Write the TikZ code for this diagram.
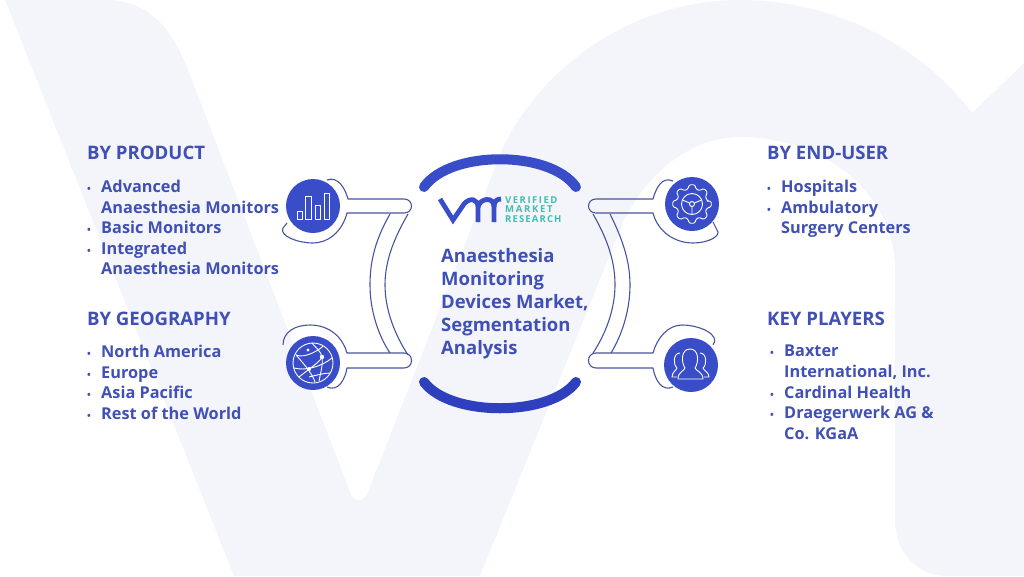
\documentclass[tikz,border=0pt]{standalone}
\usepackage{fontspec}
\usepackage{tikz}
\setmainfont{Open Sans}
\definecolor{vmrback}{RGB}{243,245,251}
\definecolor{vmrblue}{RGB}{58,77,200}
\definecolor{vmrdeep}{RGB}{46,64,190}
\definecolor{vmrtext}{RGB}{64,80,180}
\definecolor{vmrline}{RGB}{70,84,160}
\definecolor{vmrteal}{RGB}{62,190,175}
\newcommand{\itm}{\makebox[14pt][l]{\fontsize{10}{10}\selectfont\textbullet}}
\newcommand{\itc}{\hspace*{14pt}}
\tikzset{
  headtext/.style={anchor=west,inner sep=0pt,text=vmrtext,font=\fontsize{18.6}{20}\selectfont\bfseries},
  listtext/.style={anchor=north west,inner sep=0pt,align=left,text=vmrtext,font=\fontsize{16.3}{20.6}\selectfont\bfseries},
  logotext/.style={anchor=west,inner sep=0pt,text=vmrteal,font=\fontsize{9.5}{9}\selectfont\bfseries},
  iconcirc/.style={circle,fill=vmrblue,minimum size=54pt,inner sep=0pt},
  outline/.style={draw=vmrline,line width=1.1pt,line join=round},
  iconline/.style={draw=white,line width=0.9pt,line join=round}
}
\begin{document}
\begin{tikzpicture}[x=1pt,y=-1pt]
\useasboundingbox (0,0) rectangle (1024,576);
% watermark
\fill[vmrback] (5,0) -- (110,0) .. controls (150,2) and (172,30) .. (187,67) -- (350,492)
  .. controls (354,503) and (364,503) .. (368,492) -- (503,147)
  .. controls (535,80) and (620,0) .. (740,0) .. controls (840,0) and (925,50) .. (972,113)
  -- (1024,63) -- (1024,576) -- (947,576) .. controls (915,576) and (895,550) .. (895,520)
  -- (895,270) .. controls (895,190) and (820,137) .. (740,137)
  .. controls (680,137) and (635,190) .. (620,230) -- (480,576) -- (234,576) -- cycle;
% centre arcs
\draw[vmrblue,line width=10pt,line cap=round] (424,187) .. controls (450,150) and (550,150) .. (576,187);
\draw[vmrdeep,line width=10pt,line cap=round] (424,382) .. controls (450,417) and (550,417) .. (576,382);
% left strip and arms
\draw[outline] (390,214) .. controls (375,240) and (370,262) .. (370,285) .. controls (370,310) and (378,335) .. (390,353);
\draw[outline] (408,214) .. controls (393,240) and (385,262) .. (385,285) .. controls (385,310) and (395,335) .. (408,355);
\draw[outline] (327,180) .. controls (338,176) and (345,188) .. (348,199) -- (404,199)
  .. controls (414,199) and (414,213) .. (404,213) -- (347,213)
  .. controls (342,232) and (328,243) .. (313,243) .. controls (298,243) and (279,236) .. (283,228) -- (287,223);
\draw[outline] (283,345) .. controls (283,332) and (295,325) .. (310,325)
  .. controls (330,325) and (343,338) .. (347,353) -- (404,353)
  .. controls (414,353) and (414,368) .. (404,368) -- (347,368)
  .. controls (345,380) and (338,392) .. (327,387);
% right strip and arms
\draw[outline] (610,214) .. controls (623,240) and (630,262) .. (630,285) .. controls (630,310) and (622,335) .. (611,353);
\draw[outline] (593,214) .. controls (608,240) and (615,262) .. (615,285) .. controls (615,310) and (605,335) .. (593,353);
\draw[outline] (673,181) .. controls (662,176) and (656,188) .. (653,199) -- (596,199)
  .. controls (586,199) and (586,213) .. (596,213) -- (653,213)
  .. controls (658,232) and (675,243) .. (693,243) .. controls (708,243) and (722,236) .. (717,230) -- (713,222);
\draw[outline] (713,345) .. controls (721,335) and (700,325) .. (682,325)
  .. controls (668,325) and (657,338) .. (653,353) -- (596,353)
  .. controls (586,353) and (586,368) .. (596,368) -- (653,368)
  .. controls (655,380) and (662,392) .. (673,387);
% icon discs
\node (prodicon) [iconcirc] at (313,206) {};
\node (geoicon) [iconcirc] at (313,363) {};
\node (usericon) [iconcirc] at (692,204) {};
\node (playicon) [iconcirc] at (691,365) {};
% bars
\foreach \xa/\ya in {297/211,305.5/196,315/205,324/193}
  \draw[iconline] (\xa,\ya) rectangle (\xa+5.5,219);
% globe
\begin{scope}[shift={(geoicon.center)}]
\draw[iconline] (0,0) circle (20);
\draw[iconline] (-17,-8) .. controls (-8,-4) and (8,-14) .. (10,-17);
\draw[iconline] (-19,5) .. controls (-8,8) and (8,4) .. (19,-5);
\draw[iconline] (-14,14) .. controls (-4,6) and (8,-2) .. (9,-6) .. controls (8,-12) and (2,-16) .. (-1,-20);
\draw[iconline] (9,-6) .. controls (10,2) and (8,8) .. (6,18);
\draw[iconline] (-17,-8) .. controls (-8,2) and (0,12) .. (2,19);
\draw[iconline] (-4,14) .. controls (4,12) and (12,10) .. (17,10);
\fill[white] (9,-6) circle (2.2) (-4,6) circle (2) (-5,-13) circle (1.6);
\end{scope}
% gear
\begin{scope}[shift={(usericon.center)}]
\draw[iconline,rounded corners=1.5pt] (-9:16)
  \foreach \a in {0,45,...,315} { -- (\a-9:19.5) -- (\a+9:19.5) -- (\a+14:15.5) -- (\a+31:15.5) } -- cycle;
\draw[iconline] (0,0) circle (10.5);
\draw[iconline] (0,0) circle (2.5);
\draw[iconline] (-2.4,-1) -- (-9.5,-4) (2.4,-1) -- (9.5,-4) (0,2.5) -- (0,10.5);
\end{scope}
% people
\draw[iconline] (678,379) -- (703,379) .. controls (703,372) and (696,371) .. (695,368)
  .. controls (699,362) and (699,349) .. (690,349) .. controls (681,349) and (681,362) .. (685,368)
  .. controls (684,371) and (678,372) .. (678,379) -- cycle;
\draw[iconline] (680,353) .. controls (673,353) and (673,365) .. (677,368) .. controls (676,371) and (672,372) .. (672,377) -- (677,377);
\draw[iconline] (700,353) .. controls (707,353) and (707,365) .. (703,368) .. controls (704,371) and (709,372) .. (709,377) -- (704,377);
% logo
\draw[vmrblue,line width=4.8pt] (440,199) -- (453,220) -- (464,204) .. controls (470,197) and (478,199) .. (478,207) -- (478,222);
\draw[vmrblue,line width=4.8pt] (478,207) .. controls (480,198) and (494,196) .. (494,207) -- (494,222);
\draw[vmrblue,line width=4.8pt] (494,207) .. controls (494,201) and (497,199) .. (501,199);
\node (logoa) [logotext] at (505,200) {\addfontfeature{LetterSpace=16}VERIFIED};
\node (logob) [logotext] at (505,209.5) {\addfontfeature{LetterSpace=18}MARKET};
\node (logoc) [logotext] at (505,219) {\addfontfeature{LetterSpace=12}RESEARCH};
% title
\node (title) [anchor=north west,inner sep=0pt,align=left,text=vmrtext,font=\fontsize{18.5}{23}\selectfont\bfseries] at (441,248)
{Anaesthesia\\Monitoring\\Devices Market,\\Segmentation\\Analysis};
% left texts
\node (prodhead) [headtext] at (87,153) {BY PRODUCT};
\node (prodlist) [listtext] at (87,180) {\itm Advanced\\\itc Anaesthesia Monitors\\\itm Basic Monitors\\\itm Integrated\\\itc Anaesthesia Monitors};
\node (geohead) [headtext] at (87,319) {BY GEOGRAPHY};
\node (geolist) [listtext] at (87,345) {\itm North America\\\itm Europe\\\itm Asia Pacific\\\itm Rest of the World};
% right texts
\node (userhead) [headtext] at (767,153) {BY END-USER};
\node (userlist) [listtext] at (767,180) {\itm Hospitals\\\itm Ambulatory\\\itc Surgery Centers};
\node (playhead) [headtext] at (767,319) {KEY PLAYERS};
\node (playlist) [listtext] at (770,345) {\itm Baxter\\\itc International, Inc.\\\itm Cardinal Health\\\itm Draegerwerk AG \&\\\itc Co. KGaA};
\end{tikzpicture}
\end{document}
